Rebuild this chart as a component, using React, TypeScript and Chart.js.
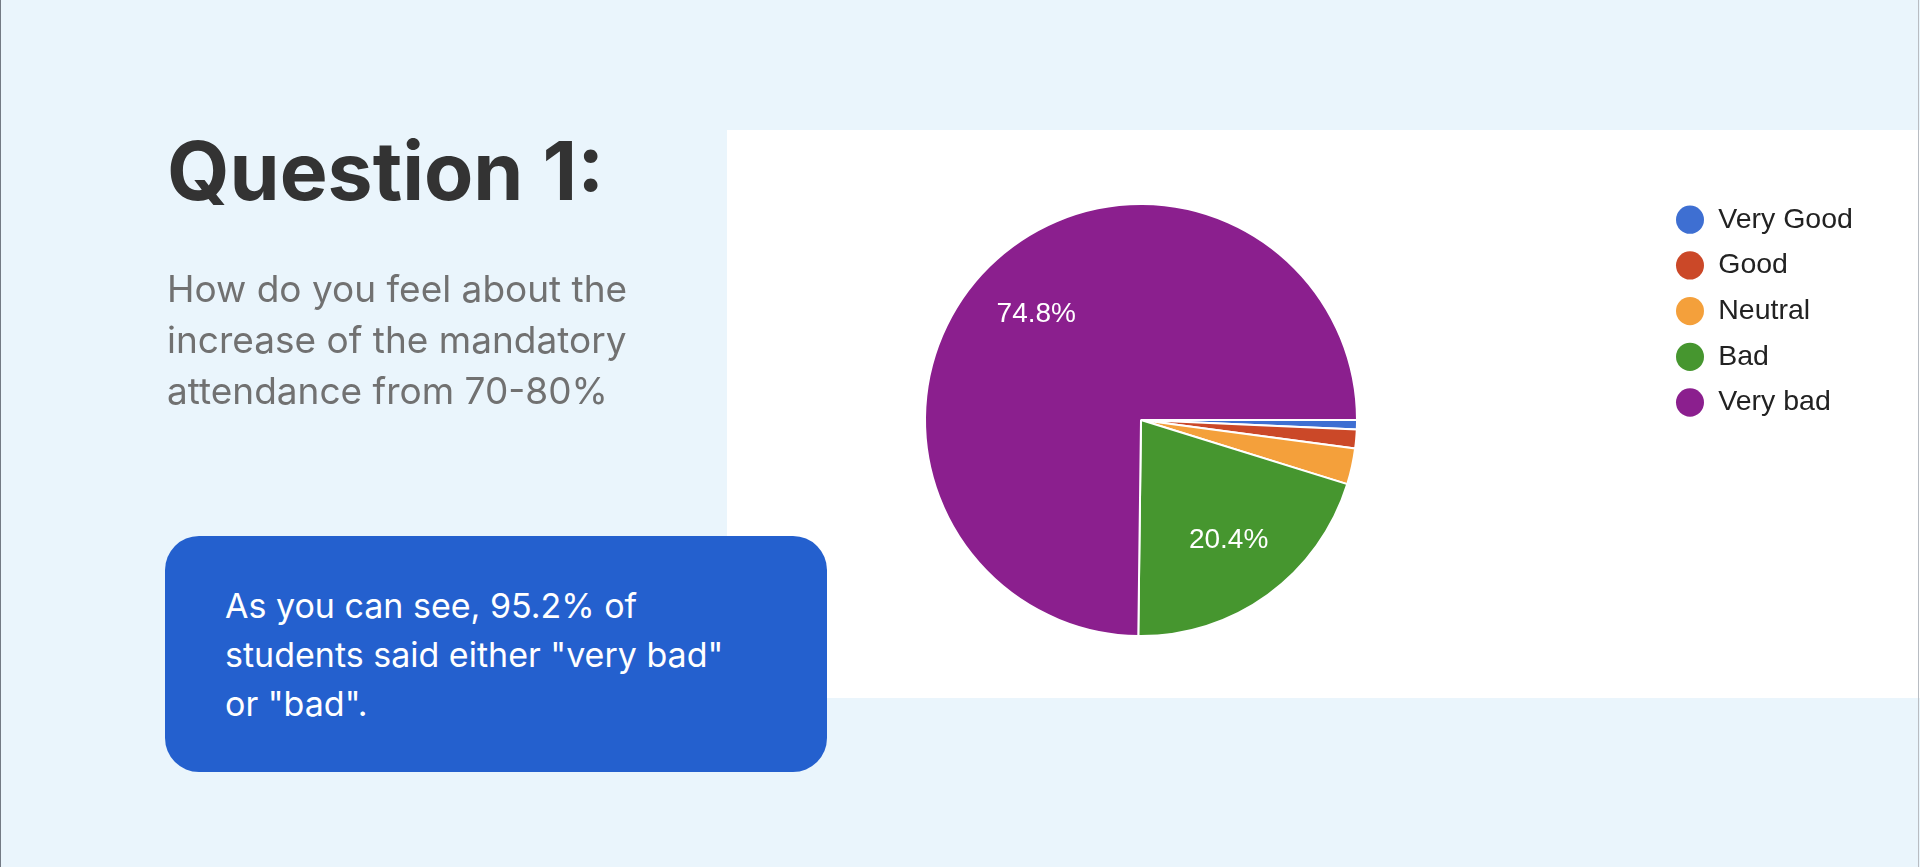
import React, { useEffect, useRef } from "react";
import { Chart, registerables } from "chart.js";

Chart.register(...registerables);

const categories = ["Very Good", "Good", "Neutral", "Bad", "Very bad"];
const percentValues = [0.7, 1.4, 2.7, 20.4, 74.8];
const sliceColors = ["#3E6FD2", "#CB4828", "#F4A03B", "#46962F", "#8B1F8E"];
const labelThreshold = 5;

const CANVAS_LEFT = 600;
const CANVAS_TOP = 130;
const CANVAS_W = 1320;
const CANVAS_H = 568;
const LEGEND_FONT = 28.5;
const LEGEND_PAD = 17.2;
const LEGEND_BOX_W = 28;
const LEGEND_ITEM_X = 1076; // relative to canvas
const PIE_CX = 541; // relative to canvas
const PIE_CY = 290;
const FIRST_ROW_CY = 89.7;

const sliceLabelPlugin = {
  id: "sliceLabels",
  afterDatasetsDraw(chart: any) {
    const ctx = chart.ctx;
    const meta = chart.getDatasetMeta(0);
    ctx.save();
    ctx.fillStyle = "#FFFFFF";
    ctx.font = '28px "Liberation Sans", Arial, sans-serif';
    ctx.textAlign = "center";
    ctx.textBaseline = "middle";
    meta.data.forEach((arc: any, i: number) => {
      const v = percentValues[i];
      if (v < labelThreshold) return;
      const p = arc.getProps(["x", "y", "startAngle", "endAngle", "outerRadius"], true);
      const mid = (p.startAngle + p.endAngle) / 2;
      const r = p.outerRadius * 0.69;
      ctx.fillText(v.toFixed(1) + "%", p.x + Math.cos(mid) * r, p.y + Math.sin(mid) * r);
    });
    ctx.restore();
  },
};

function PieChart() {
  const ref = useRef<HTMLCanvasElement | null>(null);
  useEffect(() => {
    const canvas = ref.current;
    if (!canvas) return;
    const mctx = document.createElement("canvas").getContext("2d")!;
    mctx.font = `${LEGEND_FONT}px "Liberation Sans", Arial, sans-serif`;
    const maxText = Math.max(...categories.map((c) => mctx.measureText(c).width));
    const legendLeft = LEGEND_ITEM_X - LEGEND_PAD;
    const legendW = LEGEND_PAD + LEGEND_BOX_W + LEGEND_FONT / 2 + maxText + 10;
    const padRight = CANVAS_W - legendLeft - legendW;
    const padLeft = 2 * PIE_CX - legendLeft;
    const padTop = FIRST_ROW_CY - LEGEND_PAD - LEGEND_FONT / 2;
    const padBottom = CANVAS_H + padTop - 2 * PIE_CY;

    const chart = new Chart(canvas, {
      type: "pie",
      data: {
        labels: categories,
        datasets: [
          {
            data: percentValues,
            backgroundColor: sliceColors,
            borderColor: "#FFFFFF",
            borderWidth: 2,
            radius: 216,
          } as any,
        ],
      },
      options: {
        responsive: false,
        animation: false,
        rotation: 90,
        layout: { padding: { left: padLeft, right: padRight, top: padTop, bottom: padBottom } },
        plugins: {
          tooltip: { enabled: false },
          legend: {
            display: true,
            position: "right",
            align: "start",
            labels: {
              usePointStyle: true,
              pointStyle: "circle",
              pointStyleWidth: LEGEND_BOX_W,
              boxHeight: 20,
              padding: LEGEND_PAD,
              color: "#222222",
              font: { family: '"Liberation Sans", Arial, sans-serif', size: LEGEND_FONT },
              generateLabels: (ch: any) => {
                const base = (Chart as any).overrides.pie.plugins.legend.labels.generateLabels(ch);
                return base.map((l: any) => ({ ...l, lineWidth: 0, strokeStyle: "rgba(0,0,0,0)" }));
              },
            },
          },
        },
      },
      plugins: [sliceLabelPlugin],
    });
    return () => chart.destroy();
  }, []);
  return (
    <canvas
      ref={ref}
      width={CANVAS_W}
      height={CANVAS_H}
      style={{ position: "absolute", left: CANVAS_LEFT, top: CANVAS_TOP, width: CANVAS_W, height: CANVAS_H, zIndex: 2 }}
    />
  );
}

export default function App() {
  useEffect(() => {
    document.body.style.margin = "0";
  }, []);
  return (
    <div
      style={{
        position: "relative",
        width: 1920,
        height: 867,
        background: "#EAF5FC",
        overflow: "hidden",
        fontFamily: "Inter, 'Noto Sans', sans-serif",
      }}
    >
      <div style={{ position: "absolute", left: 0, top: 0, width: 1, height: 867, background: "#737A84", zIndex: 5 }} />
      <div style={{ position: "absolute", left: 1918, top: 0, width: 1, height: 867, background: "#B8BCC2", zIndex: 5 }} />
      <div style={{ position: "absolute", left: 727, top: 130, width: 1193, height: 568, background: "#FFFFFF", zIndex: 1 }} />
      <PieChart />
      <div
        style={{
          position: "absolute",
          left: 167,
          top: 131,
          fontSize: 80.5,
          lineHeight: "80px",
          fontWeight: 700,
          color: "#333333",
          whiteSpace: "nowrap",
          zIndex: 3,
        }}
      >
        Question 1:
      </div>
      <div
        style={{
          position: "absolute",
          left: 167,
          top: 263,
          fontSize: 37,
          lineHeight: "51px",
          color: "#717171",
          whiteSpace: "nowrap",
          zIndex: 3,
        }}
      >
        How do you feel about the
        <br />
        increase of the mandatory
        <br />
        attendance from 70-80%
      </div>
      <div
        style={{
          position: "absolute",
          left: 165,
          top: 536,
          width: 662,
          height: 236,
          borderRadius: 34,
          background: "#2460CE",
          zIndex: 4,
        }}
      />
      <div
        style={{
          position: "absolute",
          left: 225,
          top: 581,
          fontSize: 34,
          lineHeight: "49px",
          color: "#FFFFFF",
          whiteSpace: "nowrap",
          zIndex: 5,
        }}
      >
        As you can see, 95.2% of
        <br />
        students said either "very bad"
        <br />
        or "bad".
      </div>
    </div>
  );
}
